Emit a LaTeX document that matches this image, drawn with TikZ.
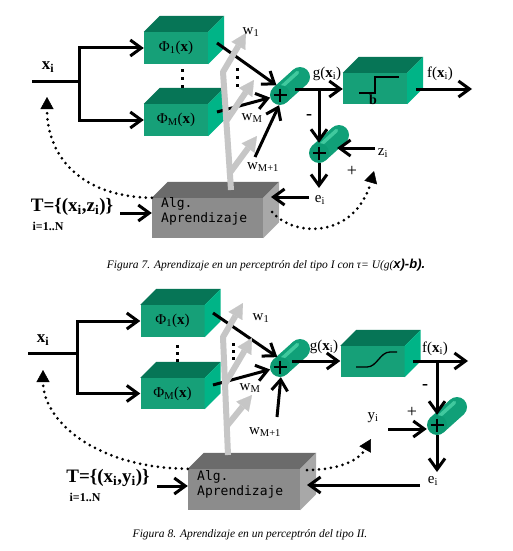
\documentclass[tikz,border=0pt]{standalone}
\usepackage{fontspec}
\setmainfont{Liberation Serif}
\setsansfont{Liberation Sans}
\newfontfamily\algfont{DejaVu Sans Mono}
\usetikzlibrary{arrows.meta,calc}
\definecolor{gF}{HTML}{16A078}
\definecolor{gT}{HTML}{067556}
\definecolor{gS}{HTML}{00B487}
\definecolor{kF}{HTML}{8C8C8C}
\definecolor{kT}{HTML}{6B6B6B}
\definecolor{kS}{HTML}{A8A8A8}
\definecolor{wgray}{HTML}{C6C6C6}
\definecolor{cylBody}{HTML}{10A078}
\definecolor{cylHi}{HTML}{40C99E}
\definecolor{cylFront}{HTML}{0C9A72}

\newcommand\boxfaces[3]{%
  \fill[#2] (#1.north west) -- ++(16,-16) -- ($(#1.north east)+(16,-16)$) -- (#1.north east) -- cycle;
  \fill[#3] (#1.north east) -- ++(16,-16) -- ($(#1.south east)+(16,-16)$) -- (#1.south east) -- cycle;}

\newcommand\sumcyl[3]{%
  \begin{scope}[shift={(#2,#3)}]
    \fill[cylBody] (-6.7,-7.4) -- (13.3,-25.4) -- (26.7,-10.6) -- (6.7,7.4) -- cycle;
    \fill[cylBody] (20,-18) circle[radius=10pt];
    \draw[cylHi, line width=3.5pt, line cap=round] (-3.3,-3.7) -- (17.5,-22.5);
  \end{scope}
  \node[sumnode] (#1) at (#2,#3) {};
  \draw[line width=1.7pt] ($(#1.center)+(-6.5,0)$) -- ($(#1.center)+(6.5,0)$) ($(#1.center)+(0,-6.5)$) -- ($(#1.center)+(0,6.5)$);}

\begin{document}
\begin{tikzpicture}[x=1pt,y=-1pt,
  arr/.style={line width=3pt, -{Straight Barb[length=11pt,width=16pt]}},
  ln/.style={line width=3pt},
  dotarr/.style={line width=3pt, dash pattern=on 0pt off 6pt, line cap=round, -{Triangle[length=12pt,width=13pt,line width=0.5pt]}},
  garr/.style={wgray, line width=6pt, -{Triangle[length=15pt,width=16pt,line width=0.1pt]}},
  greenbox/.style={fill=gF, minimum width=64pt, minimum height=32pt, inner sep=0pt, font=\fontsize{15}{17}\selectfont},
  graybox/.style={fill=kF, minimum width=111pt, minimum height=40pt, inner sep=0pt},
  sumnode/.style={circle, fill=cylFront, minimum size=20pt, inner sep=0pt},
  lab/.style={font=\fontsize{15}{17}\selectfont, inner sep=0pt},
  blab/.style={font=\bfseries\fontsize{17}{19}\selectfont, inner sep=0pt},
  tlab/.style={font=\bfseries\fontsize{19}{21}\selectfont, inner sep=0pt},
  nlab/.style={font=\bfseries\fontsize{12}{14}\selectfont, inner sep=0pt},
  algtext/.style={font=\algfont\fontsize{13}{15}\selectfont, align=left, inner sep=0pt},
  capt/.style={font=\itshape\fontsize{11.5}{13}\selectfont, inner sep=0pt}]
\useasboundingbox (0,0) rectangle (513,551);
\fill[white] (0,0) rectangle (513,551);

%================ FIGURE 7 ================
\node[greenbox] (p1A) at (176,48) {Φ\textsubscript{1}(\textbf{x})};
\boxfaces{p1A}{gT}{gS}
\node[greenbox] (pMA) at (176,120) {Φ\textsubscript{M}(\textbf{x})};
\boxfaces{pMA}{gT}{gS}
\node[greenbox, minimum height=31pt] (stA) at (375,88.5) {};
\boxfaces{stA}{gT}{gS}
\draw[line width=1.3pt] (359,93) -- (375,93) -- (375,77) -- (399,77);
\node[lab, font=\bfseries\fontsize{14}{16}\selectfont] (bA) at (373,100) {b};
\node[graybox] (algA) at (207.5,218) {};
\boxfaces{algA}{kT}{kS}
\node[algtext, anchor=west] (algtA) at (161,211) {Alg.\\Aprendizaje};

\sumcyl{s1A}{280}{95}
\sumcyl{s2A}{319}{153}

% input
\coordinate (inA) at (32,81);
\coordinate (spA) at (79,81);
\draw[ln] (inA) -- (spA);
\draw[arr] (spA) |- (p1A.west);
\draw[arr] (spA) |- (pMA.west);
\node[blab] (xiA) at (48,67) {x\textsubscript{i}};
\foreach \yy in {70,78,86} \fill (180.5,\yy-1.5) rectangle ++(3,3);
\foreach \yy in {69,77,85} \fill (235.5,\yy-1.5) rectangle ++(3,3);

% weights
\coordinate (w1sA) at (217,43);
\coordinate (wMsA) at (217,112);
\coordinate (wNsA) at (255,157);
\draw[arr] (w1sA) -- (s1A.110);
\draw[arr] (wMsA) -- (s1A.195);
\draw[arr] (wNsA) -- (s1A.265);
\draw[garr, line join=round] (231,190) -- (223,72) -- (246,33);
\draw[garr] (227,120) -- (254,80);
\draw[garr] (229,174) -- (257,136);
\node[lab] (w1A) at (251,32) {w\textsubscript{1}};
\node[lab] (wMA) at (252,118) {w\textsubscript{M}};
\node[lab] (wNA) at (263,167) {w\textsubscript{M+1}};

% output side
\coordinate (o1A) at (295,89);
\draw[arr] (o1A) -- (o1A -| stA.west);
\node[lab] (gA) at (327,74) {g(\textbf{x}\textsubscript{i})};
\coordinate (f0A) at (416,89);
\coordinate (f1A) at (472,89);
\draw[arr] (f0A) -- (f1A);
\node[lab] (fA) at (440,74) {f(\textbf{x}\textsubscript{i})};
\coordinate (jA) at (319,89);
\draw[arr] (jA) -- (jA |- s2A.north);
\node[lab, font=\bfseries\fontsize{18}{18}\selectfont] (minusA) at (309,117) {-};
\coordinate (ziA) at (375,148);
\draw[arr] (ziA) -- ++(-38,0);
\node[lab] (zA) at (383,153) {z\textsubscript{i}};
\node[lab, font=\fontsize{18}{19}\selectfont] (plusA) at (352,171) {+};
\coordinate (eTopA) at (319,188);
\draw[arr] (s2A.south) -- (eTopA);
\node[lab] (eA) at (320,200) {e\textsubscript{i}};
\coordinate (e0A) at (309,197);
\draw[arr] (e0A) -- ++(-38,0);

% training
\node[tlab] (TA) at (72,207) {T=\{(x\textsubscript{i},z\textsubscript{i})\}};
\node[nlab] (NA) at (48,226) {i=1..N};
\coordinate (tA) at (120,213);
\draw[arr] (tA) -- (tA -| algA.west);

% dotted feedback
\draw[dotarr] (algA.north west) .. controls (85,197) and (47,160) .. (47,97);
\coordinate (dA) at (272,212);
\draw[dotarr] (dA) .. controls (295,238) and (355,238) .. (374,171);

\node[capt] (capA) at (266,265) {Figura 7. Aprendizaje en un perceptrón del tipo I con τ= U(g({\sffamily\bfseries\fontsize{13}{13}\selectfont x)-b).}};

%================ FIGURE 8 ================
\node[greenbox] (p1B) at (172.5,321) {Φ\textsubscript{1}(\textbf{x})};
\boxfaces{p1B}{gT}{gS}
\node[greenbox, minimum height=31pt] (pMB) at (172.5,393.5) {Φ\textsubscript{M}(\textbf{x})};
\boxfaces{pMB}{gT}{gS}
\node[greenbox, minimum height=31pt] (sgB) at (372.5,361.5) {};
\boxfaces{sgB}{gT}{gS}
\draw[line width=1.3pt] (356,367) -- (367,367) .. controls (377,367) and (380,352) .. (390,352) -- (397,352);
\node[graybox, minimum width=112pt, minimum height=41pt] (algB) at (244,489.5) {};
\boxfaces{algB}{kT}{kS}
\node[algtext, anchor=west] (algtB) at (197,484) {Alg.\\Aprendizaje};

\sumcyl{s1B}{280}{367}
\sumcyl{s2B}{437}{425}

% input
\coordinate (inB) at (28,353);
\coordinate (spB) at (77,353);
\draw[ln] (inB) -- (spB);
\draw[arr] (spB) |- (p1B.west);
\draw[arr] (spB) |- (pMB.west);
\node[blab] (xiB) at (43,340) {x\textsubscript{i}};
\foreach \yy in {346,353,360} \fill (175.5,\yy-1.5) rectangle ++(3,3);
\foreach \yy in {344,351,358} \fill (231.5,\yy-1.5) rectangle ++(3,3);

% weights
\coordinate (w1sB) at (213,313);
\coordinate (wMsB) at (213,385);
\coordinate (wNsB) at (277,417);
\draw[arr] (w1sB) -- (s1B.105);
\draw[arr] (wMsB) -- (s1B.194);
\draw[arr] (wNsB) -- (s1B.275);
\draw[garr, line join=round] (228,455) -- (223,337) -- (243,303);
\draw[garr] (225,384) -- (252,338);
\draw[garr] (226,427) -- (252,395);
\node[lab] (w1B) at (261,318) {w\textsubscript{1}};
\node[lab] (wMB) at (250,388) {w\textsubscript{M}};
\node[lab] (wNB) at (265,432) {w\textsubscript{M+1}};

% output side
\coordinate (o1B) at (292,361);
\draw[arr] (o1B) -- (o1B -| sgB.west);
\node[lab] (gB) at (324,347) {g(\textbf{x}\textsubscript{i})};
\coordinate (f0B) at (413,361);
\coordinate (f1B) at (468,361);
\draw[arr] (f0B) -- (f1B);
\node[lab] (fB) at (435,349) {f(\textbf{x}\textsubscript{i})};
\coordinate (jB) at (437,361);
\draw[arr] (jB) -- (jB |- s2B.north);
\node[lab, font=\bfseries\fontsize{18}{18}\selectfont] (minusB) at (425,387) {-};
\node[lab, font=\fontsize{18}{19}\selectfont] (plusB) at (412,412) {+};
\node[lab] (yB) at (373,418) {y\textsubscript{i}};
\coordinate (y0B) at (388,429);
\draw[arr] (y0B) -- (y0B -| s2B.west);
\coordinate (eTopB) at (437,472);
\draw[arr] (s2B.south) -- (eTopB);
\node[lab] (eB) at (433,481) {e\textsubscript{i}};
\coordinate (e0B) at (420,485);
\draw[arr] (e0B) -- (307,485);

% training
\node[tlab] (TB) at (108,478) {T=\{(x\textsubscript{i},y\textsubscript{i})\}};
\node[nlab] (NB) at (85,497) {i=1..N};
\coordinate (tB) at (157,486);
\draw[arr] (tB) -- (tB -| algB.west);

% dotted feedback
\draw[dotarr] (algB.north west) .. controls (95,468) and (43,420) .. (43,370);
\coordinate (dB) at (307,470);
\draw[dotarr] (dB) .. controls (335,470) and (358,462) .. (371,439);

\node[capt] (capB) at (250,535) {Figura 8. Aprendizaje en un perceptrón del tipo II.};
\end{tikzpicture}
\end{document}
